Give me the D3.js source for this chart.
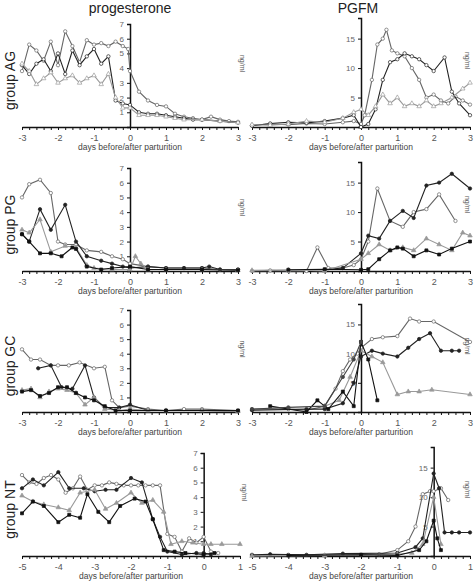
<!DOCTYPE html>
<html><head><meta charset="utf-8">
<script src="https://cdn.jsdelivr.net/npm/d3@7"></script>
<style>body{margin:0;background:#fff}text{font-family:Arial,"Liberation Sans",sans-serif}</style>
</head><body><svg id="c" width="474" height="585"></svg>
<script>
// series: [x, y] pairs
const groups = ['group AG', 'group PG', 'group GC', 'group NT'];

const agProg = [
  [[-3,3.8],[-2.8,5.6],[-2.6,5.2],[-2.4,4.5],[-2.2,5.8],[-2,4.2],[-1.8,6.5],[-1.6,5.5],[-1.4,4.4],[-1.2,5.9],[-1,5.6],[-0.8,5.7],[-0.6,5.5],[-0.4,5.8],[-0.2,5.5],[-0.05,5.3],[0,3.8],[0.25,2.4],[0.5,1.8],[0.75,1.5],[1,1.4],[1.25,0.9],[1.5,0.7],[1.75,0.6],[2,0.5],[2.25,0.7],[2.5,0.5],[2.75,0.4],[3,0.35]],
  [[-3,4.2],[-2.8,3.6],[-2.6,4.3],[-2.4,4.6],[-2.2,3.8],[-2,5],[-1.8,3.6],[-1.6,5.2],[-1.4,4.2],[-1.2,4.8],[-1,5.3],[-0.8,4.3],[-0.6,4.8],[-0.4,1.8],[-0.2,1.6],[0,1.5],[0.25,1],[0.5,0.9],[0.75,0.9],[1,0.8],[1.25,0.7],[1.5,0.6],[1.75,0.5],[2,0.5],[2.5,0.4],[3,0.3]],
  [[-3,4.3],[-2.8,3.8],[-2.6,2.9],[-2.4,3.3],[-2.2,3.7],[-2,3],[-1.8,3.3],[-1.6,3.5],[-1.4,3],[-1.2,3.3],[-1,3.5],[-0.8,2.9],[-0.6,3.6],[-0.4,2],[-0.2,1.3],[0,1.3],[0.25,0.8],[0.5,0.8],[0.75,0.8],[1,0.7],[1.25,0.6],[1.5,0.5],[2,0.5],[2.5,0.4],[3,0.3]]
];
const agPgfm = [
  [[-3,0.3],[-2.5,0.5],[-2,0.4],[-1.5,0.6],[-1,0.5],[-0.5,0.8],[-0.2,1],[0,0.5],[0.1,2],[0.3,8],[0.45,14],[0.6,15],[0.7,16.5],[0.85,13],[1,12.5],[1.2,12],[1.4,10],[1.6,8],[1.8,5],[2,5.5],[2.2,4.5],[2.4,4],[2.6,5.2],[2.8,4.5],[3,3.8]],
  [[-3,0.2],[-2.5,0.6],[-2,0.8],[-1.5,0.7],[-1,1],[-0.5,1.5],[-0.2,2],[0,0],[0.2,0.5],[0.4,3],[0.6,8],[0.8,11],[1,11.5],[1.2,12.5],[1.4,12],[1.6,11.5],[1.8,10.5],[2,9.5],[2.3,11.8],[2.5,6],[2.7,4],[3,2]],
  [[-3,0.4],[-2.5,0.3],[-2,0.5],[-1.5,1],[-1,0.8],[-0.5,1.5],[-0.2,2.5],[0,3],[0.2,2],[0.4,3.5],[0.6,5.5],[0.8,4],[1,5],[1.2,3.5],[1.4,4],[1.6,3.5],[1.8,4.5],[2,3.5],[2.2,4],[2.5,5],[2.8,6.5],[3,7.5]]
];
const pgProg = [
  [[-3,5],[-2.8,5.9],[-2.5,6.2],[-2.2,5.3],[-2,2],[-1.8,1.8],[-1.5,1.8],[-1.2,1.4],[-0.8,1.3],[-0.5,1],[-0.2,0.8],[0,0.5],[0.5,0.3],[1,0.2],[1.5,0.2],[2,0.2],[2.5,0.1],[3,0.1]],
  [[-3,2.5],[-2.8,2],[-2.5,4.2],[-2.2,2.8],[-1.8,4.5],[-1.5,2],[-1.2,1],[-0.8,0.7],[-0.5,0.5],[-0.2,0.3],[0,0.2],[0.5,0.3],[1,0.2],[1.5,0.2],[2,0.2],[2.2,0.3],[2.5,0.1],[3,0.1]],
  [[-3,2.8],[-2.8,2.6],[-2.5,3.5],[-2.2,1.3],[-1.8,1.7],[-1.5,1.6],[-1.2,0.4],[-1,0.2],[-0.5,0.1],[0,0.1],[0.15,1],[0.3,0.5],[0.5,0.1],[1,0.1],[2,0.1],[3,0.05]],
  [[-3,2.5],[-2.8,2],[-2.5,1.2],[-2.2,1.2],[-1.9,1],[-1.6,1.6],[-1.5,1.5],[-1.2,0.3],[-0.8,0.1],[-0.5,0.2],[0,0.3],[0.5,0.1],[1,0.1],[2,0.1],[3,0.05]]
];
const pgPgfm = [
  [[-3,0],[-2.5,0.1],[-2,0],[-1.5,0],[-1.2,4],[-0.9,0.5],[-0.5,0.5],[-0.2,1],[0,2],[0.2,5],[0.45,14],[0.8,8.5],[1.15,7.5],[1.45,10],[1.8,10.5],[2.15,13],[2.6,8.5]],
  [[-1,0.2],[-0.5,0.5],[0,3],[0.2,6],[0.5,5.5],[0.8,8.5],[1.15,10.2],[1.45,9],[1.8,14.5],[2.15,15],[2.5,16.5],[3,14]],
  [[-3,0.1],[-2,0.2],[-1,0],[0,2],[0.2,3],[0.5,4.5],[0.8,3.5],[1.15,4],[1.45,3.5],[1.8,5.5],[2.15,4.5],[2.5,3.5],[2.8,6.5],[3,6]],
  [[-2,0.2],[-1,0.3],[0,0.2],[0.2,0.3],[0.5,2],[0.8,3.5],[1,4],[1.15,3.8],[1.45,2.5],[1.8,3.5],[2.15,2.8],[2.5,3.8],[3,5]]
];
const gcProg = [
  [[-3,4.3],[-2.75,3.6],[-2.5,3.6],[-2.2,3.2],[-2,3.2],[-1.7,3.2],[-1.4,3.4],[-1,3],[-0.7,3.1],[-0.5,0.8],[-0.3,0.3],[0,0.4],[0.5,0.2],[1,0.1],[1.5,0.2],[2,0.2],[3,0.1]],
  [[-2.55,3],[-2.2,3.2],[-1.9,1.7],[-1.6,1.6],[-1.25,3.2],[-1,1],[-0.7,0.3],[-0.3,0.3],[0,0.5],[0.5,0.1],[1,0.1],[2,0.1],[3,0.05]],
  [[-3,1.5],[-2.75,1.6],[-2.5,1],[-2.25,1.4],[-2,1.6],[-1.75,1.5],[-1.5,1.3],[-1.25,0.5],[-1,1],[-0.7,0.2],[-0.3,0.1],[0,0.2],[0.5,0.1],[1,0.1],[2,0.1],[3,0.05]],
  [[-3,1.4],[-2.75,1.5],[-2.5,1.1],[-2.25,1.3],[-2,1.7],[-1.75,1.7],[-1.5,1.3],[-1.25,1],[-1,0.8],[-0.7,0.4],[-0.4,0.1],[0,0.1],[1,0.1],[3,0.1]]
];
const gcPgfm = [
  [[-3,0.5],[-2,0.5],[-1.5,0.3],[-1,1],[-0.7,4],[-0.5,7],[-0.3,9],[-0.1,10],[0,11],[0.3,12.5],[0.6,12.8],[1,13],[1.35,16],[1.6,15.5],[2,15.5],[3,12]],
  [[-3,0.3],[-1.5,0.5],[-1,0.5],[-0.5,1.5],[-0.2,5],[0,9.5],[0.3,10.5],[0.6,10],[1,9.5],[1.3,11],[1.6,12.5],[1.9,13.5],[2.2,10.5],[2.5,10.5],[2.7,10.5]],
  [[-1,1],[-0.6,2],[-0.3,6],[0,10.5],[0.3,9.5],[0.6,8.5],[1,3],[1.3,3.5],[1.6,3.5],[1.95,3.8],[3,3]],
  [[-2.5,1],[-1.5,0],[-1.2,2],[-0.9,0.5],[-0.5,3.5],[-0.2,1],[0,12],[0.2,9],[0.45,2]],
  [[-3,0.5],[-2,0.8],[-1,1],[-0.5,6],[-0.2,9],[0,12]]
];
const ntProg = [
  [[-5,5.5],[-4.8,5],[-4.6,4.9],[-4.4,5.3],[-4.2,5.5],[-4,5.2],[-3.8,4.3],[-3.6,4.6],[-3.4,5.4],[-3.2,4.5],[-3,4.8],[-2.8,4.8],[-2.6,5],[-2.4,4.9],[-2.2,4.8],[-2,4.8],[-1.8,4.8],[-1.6,4.8],[-1.4,4.8],[-1.2,4.8],[-1,1.5],[-0.8,1.3],[-0.6,0.3],[-0.4,1.2],[-0.2,0.9],[0,1.3],[0.2,0.3],[0.4,0.2]],
  [[-5,4.6],[-4.7,5.2],[-4.4,4.8],[-4,5.7],[-3.7,4.6],[-3.3,4.6],[-3,4.4],[-2.7,4.5],[-2.4,4.5],[-2,5.3],[-1.7,5],[-1.4,2.5],[-1.2,1.3],[-1,0.3],[-0.6,0.1],[-0.2,0.2],[0,0.2],[0.2,0.1]],
  [[-5,4.1],[-4.7,3.7],[-4.4,3.5],[-4,3.3],[-3.7,3.1],[-3.4,4.3],[-3,4.5],[-2.7,3.2],[-2.4,3.6],[-2,4.3],[-1.7,3.6],[-1.4,3.8],[-1.1,3],[-0.9,0.8],[-0.6,1],[-0.3,0.9],[0,0.8],[0.2,0.8],[0.5,0.8],[1,0.8]],
  [[-5,2.9],[-4.7,3.7],[-4.4,3.4],[-4,2.3],[-3.7,2.8],[-3.4,2.6],[-3.2,4.2],[-2.9,3],[-2.6,2.3],[-2.3,3.4],[-1.9,3.9],[-1.6,3.7],[-1.4,2.5],[-1.1,0.4],[-0.8,0.3],[-0.5,0.2],[0,0.1],[0.3,0.2]]
];
const ntPgfm = [
  [[-5,0.1],[-4,0.2],[-3,0.1],[-2,0.2],[-1.5,0.3],[-1,1],[-0.7,2.5],[-0.5,5],[-0.3,10.5],[-0.1,11],[0,11],[0.2,11.5],[0.4,9.5]],
  [[-5,0.2],[-4.5,0.3],[-3.5,0.2],[-2.5,0.4],[-1,0.5],[-0.5,1.5],[-0.3,3],[0,14],[0.15,11.5],[0.3,4],[0.5,4],[0.7,4],[1,4]],
  [[-5,0],[-3,0.1],[-1,0.3],[-0.6,0.5],[-0.3,2],[0,10],[0.2,2]],
  [[-4,0.1],[-2,0.2],[-1,0.1],[-0.4,1],[-0.2,2.5],[0,6],[0.1,3],[0.2,1]]
];

const progRows = [agProg, pgProg, gcProg, ntProg];
const pgfmRows = [agPgfm, pgPgfm, gcPgfm, ntPgfm];
const xDomains = [[-3,3],[-3,3],[-3,3],[-5,1]];
const rowTop = [24, 168, 310, 453];
const rowZero = [127, 271, 412, 556];
const colors = ['#666', '#222', '#999', '#111', '#444'];
const marks = ['circle', 'circle', 'triangle', 'square', 'circle'];

const svg = d3.select('#c');
svg.append('text').attr('x', 130).attr('y', 13).attr('text-anchor', 'middle').attr('font-size', 14).attr('fill', '#222').text('progesterone');
svg.append('text').attr('x', 358).attr('y', 13).attr('text-anchor', 'middle').attr('font-size', 14).attr('fill', '#222').text('PGFM');

function panel(series, xd, x0, x1, top, zero, ymax, yticks, left, row) {
  const x = d3.scaleLinear().domain(xd).range([x0, x1]);
  const y = d3.scaleLinear().domain([0, ymax]).range([zero, top]);
  const g = svg.append('g');
  const ax = g.append('g').attr('transform', `translate(0,${zero})`)
    .call(d3.axisBottom(x).ticks(xd[1] - xd[0]).tickSize(0).tickPadding(8).tickFormat(d3.format('d')));
  ax.select('.domain').attr('stroke', '#111').attr('stroke-width', 1.5);
  ax.selectAll('text').attr('font-size', 9).attr('fill', '#555').text(d => d < 0 ? '-' + Math.abs(d) : d);
  g.append('g').attr('transform', `translate(0,${zero})`)
    .call(d3.axisBottom(x).ticks((xd[1] - xd[0]) * 5).tickSize(3).tickFormat(''))
    .call(a => a.select('.domain').remove()).selectAll('line').attr('stroke', '#111');
  const ay = g.append('g').attr('transform', `translate(${x(0)},0)`)
    .call(d3.axisLeft(y).tickValues(yticks).tickSize(3).tickPadding(3).tickFormat(d3.format('d')));
  ay.select('.domain').attr('stroke', '#111').attr('stroke-width', 1.5);
  ay.selectAll('text').attr('font-size', 8).attr('fill', '#666');
  ay.selectAll('line').attr('stroke', '#111');
  g.append('text').attr('x', (x0 + x1) / 2).attr('y', zero + 23).attr('text-anchor', 'middle')
    .attr('font-size', 8.5).attr('fill', '#444').text('days before/after parturition');
  g.append('text').attr('transform', `translate(${left ? x1 + 2 : x1 - 5},${(top + zero) / 2 - 12}) rotate(90)`)
    .attr('text-anchor', 'middle').attr('font-size', 7).attr('fill', '#555').text('ng/ml');
  const line = d3.line().x(d => x(d[0])).y(d => y(d[1]));
  series.forEach((s, i) => {
    const c = colors[i % colors.length];
    g.append('path').datum(s).attr('d', line).attr('fill', 'none').attr('stroke', c).attr('stroke-width', 1.1);
    const sym = d3.symbol().type(marks[i] === 'triangle' ? d3.symbolTriangle : marks[i] === 'square' ? d3.symbolSquare : d3.symbolCircle).size(9);
    g.selectAll(null).data(s).join('path').attr('d', sym)
      .attr('transform', d => `translate(${x(d[0])},${y(d[1])})`)
      .attr('fill', (row === 0 || i === 0) ? '#fff' : c).attr('stroke', c).attr('stroke-width', 0.7);
  });
}

groups.forEach((gname, r) => {
  svg.append('text').attr('transform', `translate(15,${(rowTop[r] + rowZero[r]) / 2 + 5}) rotate(-90)`)
    .attr('text-anchor', 'middle').attr('font-size', 14).attr('fill', '#222').text(gname);
  panel(progRows[r], xDomains[r], 22, r === 3 ? 240 : 238, rowTop[r], rowZero[r], 7, [1,2,3,4,5,6,7], true, r);
  panel(pgfmRows[r], xDomains[r], 252, 470, rowTop[r] - 6, rowZero[r], 18.5, [5,10,15], false, r);
});
</script></body></html>
